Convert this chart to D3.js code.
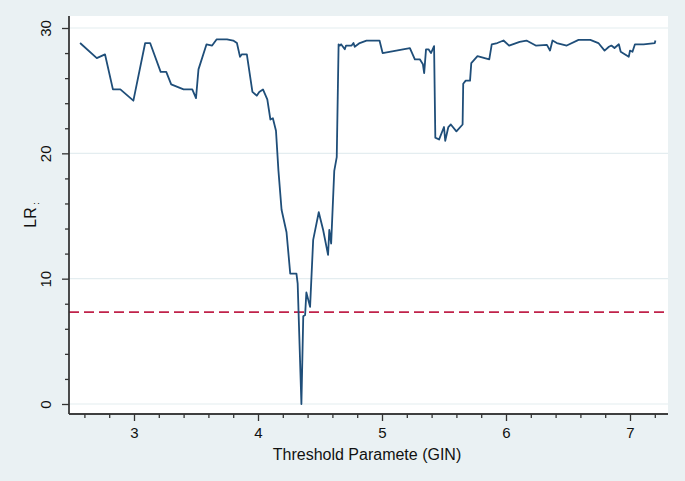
<!DOCTYPE html>
<html><head><meta charset="utf-8">
<script src="https://cdn.jsdelivr.net/npm/d3@7"></script>
<style>body{margin:0;background:#eaf1f3}svg{display:block}</style></head>
<body><svg id="c" width="685" height="481"></svg>
<script>
const xs=[2.565,2.70,2.766,2.83,2.89,2.995,3.09,3.13,3.215,3.26,3.30,3.40,3.47,3.50,3.52,3.585,3.63,3.667,3.75,3.80,3.83,3.855,3.87,3.91,3.955,3.99,4.01,4.04,4.075,4.10,4.12,4.145,4.165,4.19,4.23,4.26,4.31,4.32,4.35,4.365,4.38,4.39,4.42,4.445,4.49,4.525,4.565,4.575,4.59,4.615,4.635,4.65,4.66,4.67,4.70,4.71,4.755,4.77,4.78,4.82,4.875,4.90,4.98,5.005,5.225,5.265,5.305,5.33,5.34,5.355,5.375,5.395,5.42,5.43,5.46,5.50,5.51,5.535,5.555,5.60,5.65,5.655,5.675,5.71,5.72,5.77,5.865,5.885,5.93,5.98,6.025,6.11,6.165,6.24,6.33,6.355,6.375,6.41,6.49,6.585,6.68,6.745,6.795,6.83,6.85,6.875,6.91,6.925,6.99,7.0,7.02,7.04,7.11,7.20,7.205];
const lr=[28.8,27.6,27.9,25.1,25.1,24.2,28.8,28.8,26.5,26.5,25.5,25.1,25.1,24.4,26.7,28.7,28.6,29.1,29.1,29.0,28.8,27.7,27.9,27.9,24.9,24.6,24.9,25.1,24.3,22.7,22.8,21.8,18.6,15.5,13.7,10.4,10.4,9.6,0,7.0,7.1,8.9,7.75,13.1,15.3,13.9,11.9,13.9,12.8,18.6,19.7,28.7,28.6,28.7,28.3,28.6,28.6,28.8,28.5,28.8,29.0,29.0,29.0,28.0,28.4,27.5,27.5,27.1,26.4,28.3,28.3,28.0,28.55,21.25,21.1,22.1,21.0,22.1,22.3,21.75,22.3,25.55,25.8,25.8,27.2,27.75,27.5,28.7,28.8,29.0,28.6,28.9,29.0,28.6,28.65,28.2,29.0,28.8,28.6,29.05,29.05,28.8,28.2,28.5,28.6,28.4,28.7,28.1,27.7,28.2,28.1,28.7,28.7,28.8,29.0];
const xTicks=[3,4,5,6,7];
const yTicks=[0,10,20,30];
const threshold=7.33;
const xLabel="Threshold Paramete (GIN)";

const svg=d3.select("#c");
const L=69,R=668,T=16,B=414;
svg.append("rect").attr("x",L).attr("y",T).attr("width",R-L).attr("height",B-T).attr("fill","#fff");
const x=d3.scaleLinear().domain([3,7]).range([134,630]);
const y=d3.scaleLinear().domain([0,30]).range([404,28]);
// grid
svg.selectAll(".g").data(yTicks).join("line").attr("x1",L).attr("x2",R).attr("y1",d=>y(d)).attr("y2",d=>y(d)).attr("stroke","#e4edf0").attr("stroke-width",1.2);
// threshold
svg.append("line").attr("x1",L).attr("x2",R).attr("y1",y(threshold)).attr("y2",y(threshold)).attr("stroke","#c0224a").attr("stroke-width",1.6).attr("stroke-dasharray","10,5");
// line
svg.append("path").datum(xs.map((d,i)=>[d,lr[i]])).attr("fill","none").attr("stroke","#1f4e79").attr("stroke-width",1.8).attr("stroke-linejoin","round")
 .attr("d",d3.line().x(d=>x(d[0])).y(d=>y(d[1])));
// axes
const xa=svg.append("g").attr("transform",`translate(0,${B})`);
xa.call(d3.axisBottom(x).tickValues(d3.range(2.6,7.21,0.2).map(v=>+v.toFixed(1)).filter(v=>!xTicks.includes(v))).tickSize(4).tickFormat(""));
xa.append("g").call(d3.axisBottom(x).tickValues(xTicks).tickSize(7).tickFormat(d3.format("d")));
xa.selectAll(".domain").attr("d",`M${L},0H${R}`);
xa.selectAll("path,line").attr("stroke","#333").attr("stroke-width",1.3);
xa.selectAll("text").attr("font-family","Liberation Sans, Arial").attr("font-size",15).attr("fill","#111").attr("dy","0.9em");
const ya=svg.append("g").attr("transform",`translate(${L},0)`);
ya.call(d3.axisLeft(y).tickValues(d3.range(2,30,2).filter(v=>!yTicks.includes(v))).tickSize(4).tickFormat(""));
ya.append("g").call(d3.axisLeft(y).tickValues(yTicks).tickSize(7).tickFormat(d3.format("d")));
ya.selectAll(".domain").attr("d",`M0,${T}V${B}`);
ya.selectAll("path,line").attr("stroke","#333").attr("stroke-width",1.3);
ya.selectAll("g.tick text").attr("font-family","Liberation Sans, Arial").attr("font-size",15).attr("fill","#111")
  .attr("text-anchor","middle").attr("dy",0).attr("x",0).attr("transform","translate(-18,0) rotate(-90)");
svg.append("text").attr("x",367).attr("y",460).attr("text-anchor","middle").attr("font-family","Liberation Sans, Arial").attr("font-size",16).attr("fill","#111").text(xLabel);
const yl=svg.append("text").attr("transform","translate(36,215) rotate(-90)").attr("text-anchor","middle").attr("font-family","Liberation Sans, Arial").attr("font-size",16).attr("fill","#111");
yl.append("tspan").text("LR");
yl.append("tspan").attr("font-size",9).attr("dy",3).text(" :");
</script></body></html>
